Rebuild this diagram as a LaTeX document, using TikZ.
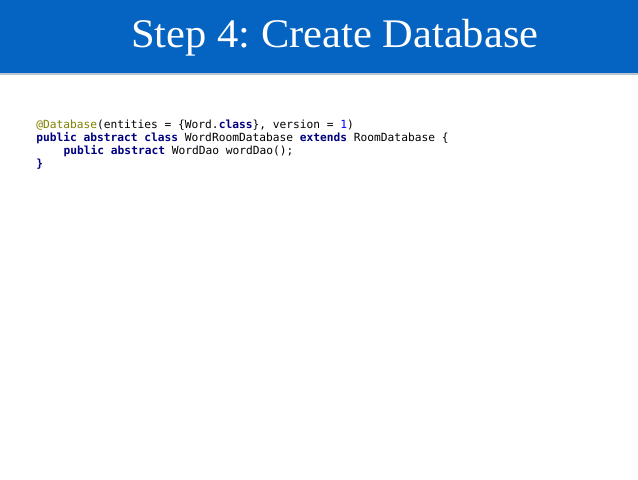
\documentclass[tikz,border=0pt]{standalone}
\usepackage{fontspec}
\setmainfont{Liberation Serif}
\newfontfamily\codefont{DejaVu Sans Mono}
\frenchspacing
\definecolor{barblue}{HTML}{0563C1}
\definecolor{annot}{HTML}{808000}
\definecolor{kw}{HTML}{000080}
\definecolor{num}{HTML}{0000FF}
\definecolor{shadowgray}{HTML}{B8C4D4}
\tikzset{
  codeline/.style={anchor=base west, inner sep=0pt, font=\codefont\fontsize{8.42pt}{10pt}\selectfont, text=black},
  titletext/.style={anchor=base west, inner sep=0pt, text=white, font=\fontsize{30.5pt}{36pt}\selectfont}
}
\newcommand{\kwd}[1]{\textcolor{kw}{\bfseries #1}}
\begin{document}
\begin{tikzpicture}[x=0.75pt,y=-0.75pt]
\useasboundingbox (0,0) rectangle (638,479);
\fill[white] (0,0) rectangle (638,479);
\fill[shadowgray] (0,72) rectangle (638,75);
\fill[barblue] (0,0) rectangle (638,72.5);
\node[titletext, xscale=1.045] (title) at (131,47.5) {Step 4: Create Database};
\node[codeline] (l1) at (36,128.7) {\textcolor{annot}{@Database}(entities = \{Word.\kwd{class}\}, version = \textcolor{num}{1})};
\node[codeline] (l2) at (36,141.5) {\kwd{public} \kwd{abstract} \kwd{class} WordRoomDatabase \kwd{extends} RoomDatabase \{};
\node[codeline] (l3) at (63.4,154.3) {\kwd{public} \kwd{abstract} WordDao wordDao();};
\node[codeline] (l4) at (36,167.1) {\kwd{\}}};
\end{tikzpicture}
\end{document}
